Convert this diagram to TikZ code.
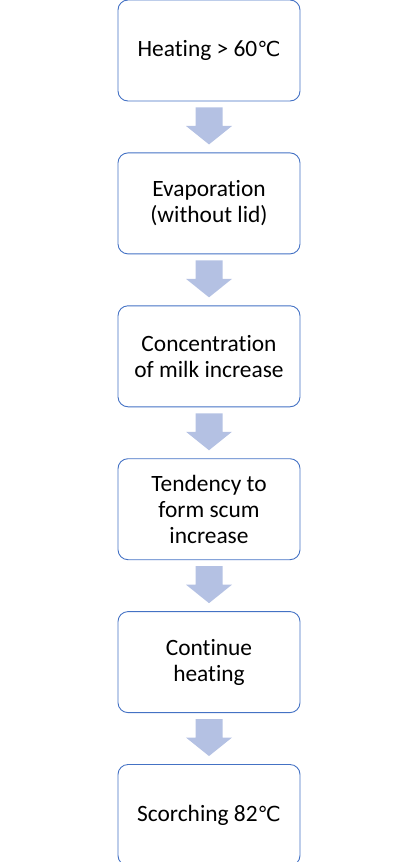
\documentclass[tikz,border=0pt]{standalone}
\usepackage{fontspec}
\setmainfont{Carlito}[Ligatures=NoCommon]
\newfontfamily\symfont{DejaVu Sans}[Scale=0.88]
\newcommand{\degC}{{\symfont ℃}}
\usetikzlibrary{positioning,calc}
\definecolor{boxline}{RGB}{68,114,196}
\definecolor{arrowfill}{RGB}{180,193,227}
\begin{document}
\begin{tikzpicture}[
		x=1pt,y=1pt,
		node distance=51pt,
		stepbox/.style={
				draw=boxline,
				line width=0.9pt,
				rounded corners=10pt,
				minimum width=182pt,
				minimum height=101pt,
				align=center,
				inner sep=2pt,
				font=\fontsize{23.4}{26}\selectfont
			},
		flowarrow/.style={
				fill=arrowfill,
				draw=none
			},
	]
	\useasboundingbox (0,0) rectangle (407,-862);
	\node [stepbox] (heat) at (209, -50.5) {Heating > 60\degC};
	\node [stepbox, below=of heat] (evap) {Evaporation\\(without lid)};
	\node [stepbox, below=of evap] (conc) {Concentration\\of milk increase};
	\node [stepbox, below=of conc] (scum) {Tendency to\\form scum\\increase};
	\node [stepbox, below=of scum] (cont) {Continue\\heating};
	\node [stepbox, below=of cont] (scorch) {Scorching 82\degC};
	% block arrows between the steps
	\foreach \a/\b/\n in {heat/evap/1, evap/conc/2, conc/scum/3, scum/cont/4, cont/scorch/5} {
		\coordinate (mid\n) at ($(\a.south)!0.5!(\b.north)+(0,1)$);
		\fill [flowarrow] ($(mid\n)+(-13.5,18.5)$) -- ++(27,0) -- ++(0,-18.5) -- ++(9.5,0)
			-- ($(mid\n)+(0,-18.5)$) -- ($(mid\n)+(-23,0)$) -- ++(9.5,0) -- cycle;
	}
\end{tikzpicture}
\end{document}
